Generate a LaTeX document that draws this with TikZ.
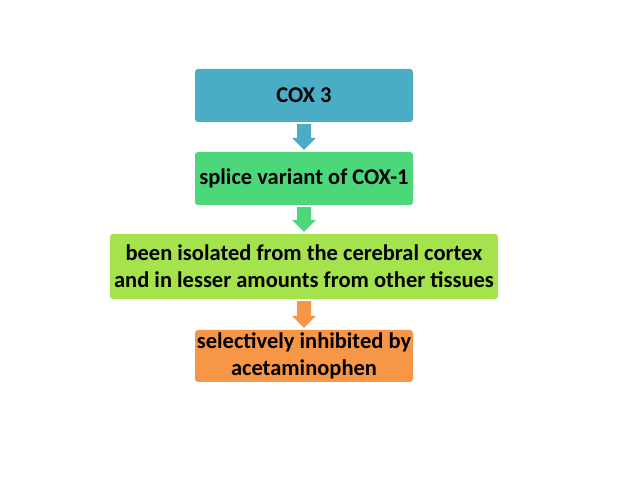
\documentclass[tikz,border=0pt]{standalone}
\usepackage{fontspec}
\setmainfont{Carlito}
\usetikzlibrary{calc}
\definecolor{c1}{HTML}{4BACC6}
\definecolor{c2}{HTML}{4CD87A}
\definecolor{c3}{HTML}{A5E34C}
\definecolor{c4}{HTML}{F79646}
\begin{document}
\begin{tikzpicture}[x=1pt,y=-1pt,
  box/.style={rounded corners=3pt,draw=none,fill=#1,align=center,inner sep=0pt,font=\fontsize{22.5}{27}\selectfont\bfseries},
  barrow/.style={fill=#1,draw=none}]
\useasboundingbox (0,0) rectangle (638,478);
\node[box=c1,minimum width=218pt,minimum height=53pt] (a) at (304,95.5) {COX 3};
\node[box=c2,minimum width=218pt,minimum height=53pt] (b) at (304,178.5) {splice variant of COX-1};
\node[box=c3,minimum width=388pt,minimum height=65pt] (c) at (304,266.5) {been isolated from the cerebral cortex\\and in lesser amounts from other tissues};
\node[box=c4,minimum width=218pt,minimum height=52pt] (d) at (304,356) {selectively inhibited by\\acetaminophen};
\foreach \p/\q/\col in {a/b/c1,b/c/c2,c/d/c4}{
  \path ($(\p.south)+(0,2)$) coordinate (s) ($(\q.north)+(0,-2)$) coordinate (e);
  \fill[\col] ($(s)+(-7,0)$) -- ($(s)+(7,0)$) -- ($(e)+(7,-12)$) -- ($(e)+(12,-12)$) -- (e) -- ($(e)+(-12,-12)$) -- ($(e)+(-7,-12)$) -- cycle;
}
\end{tikzpicture}
\end{document}
